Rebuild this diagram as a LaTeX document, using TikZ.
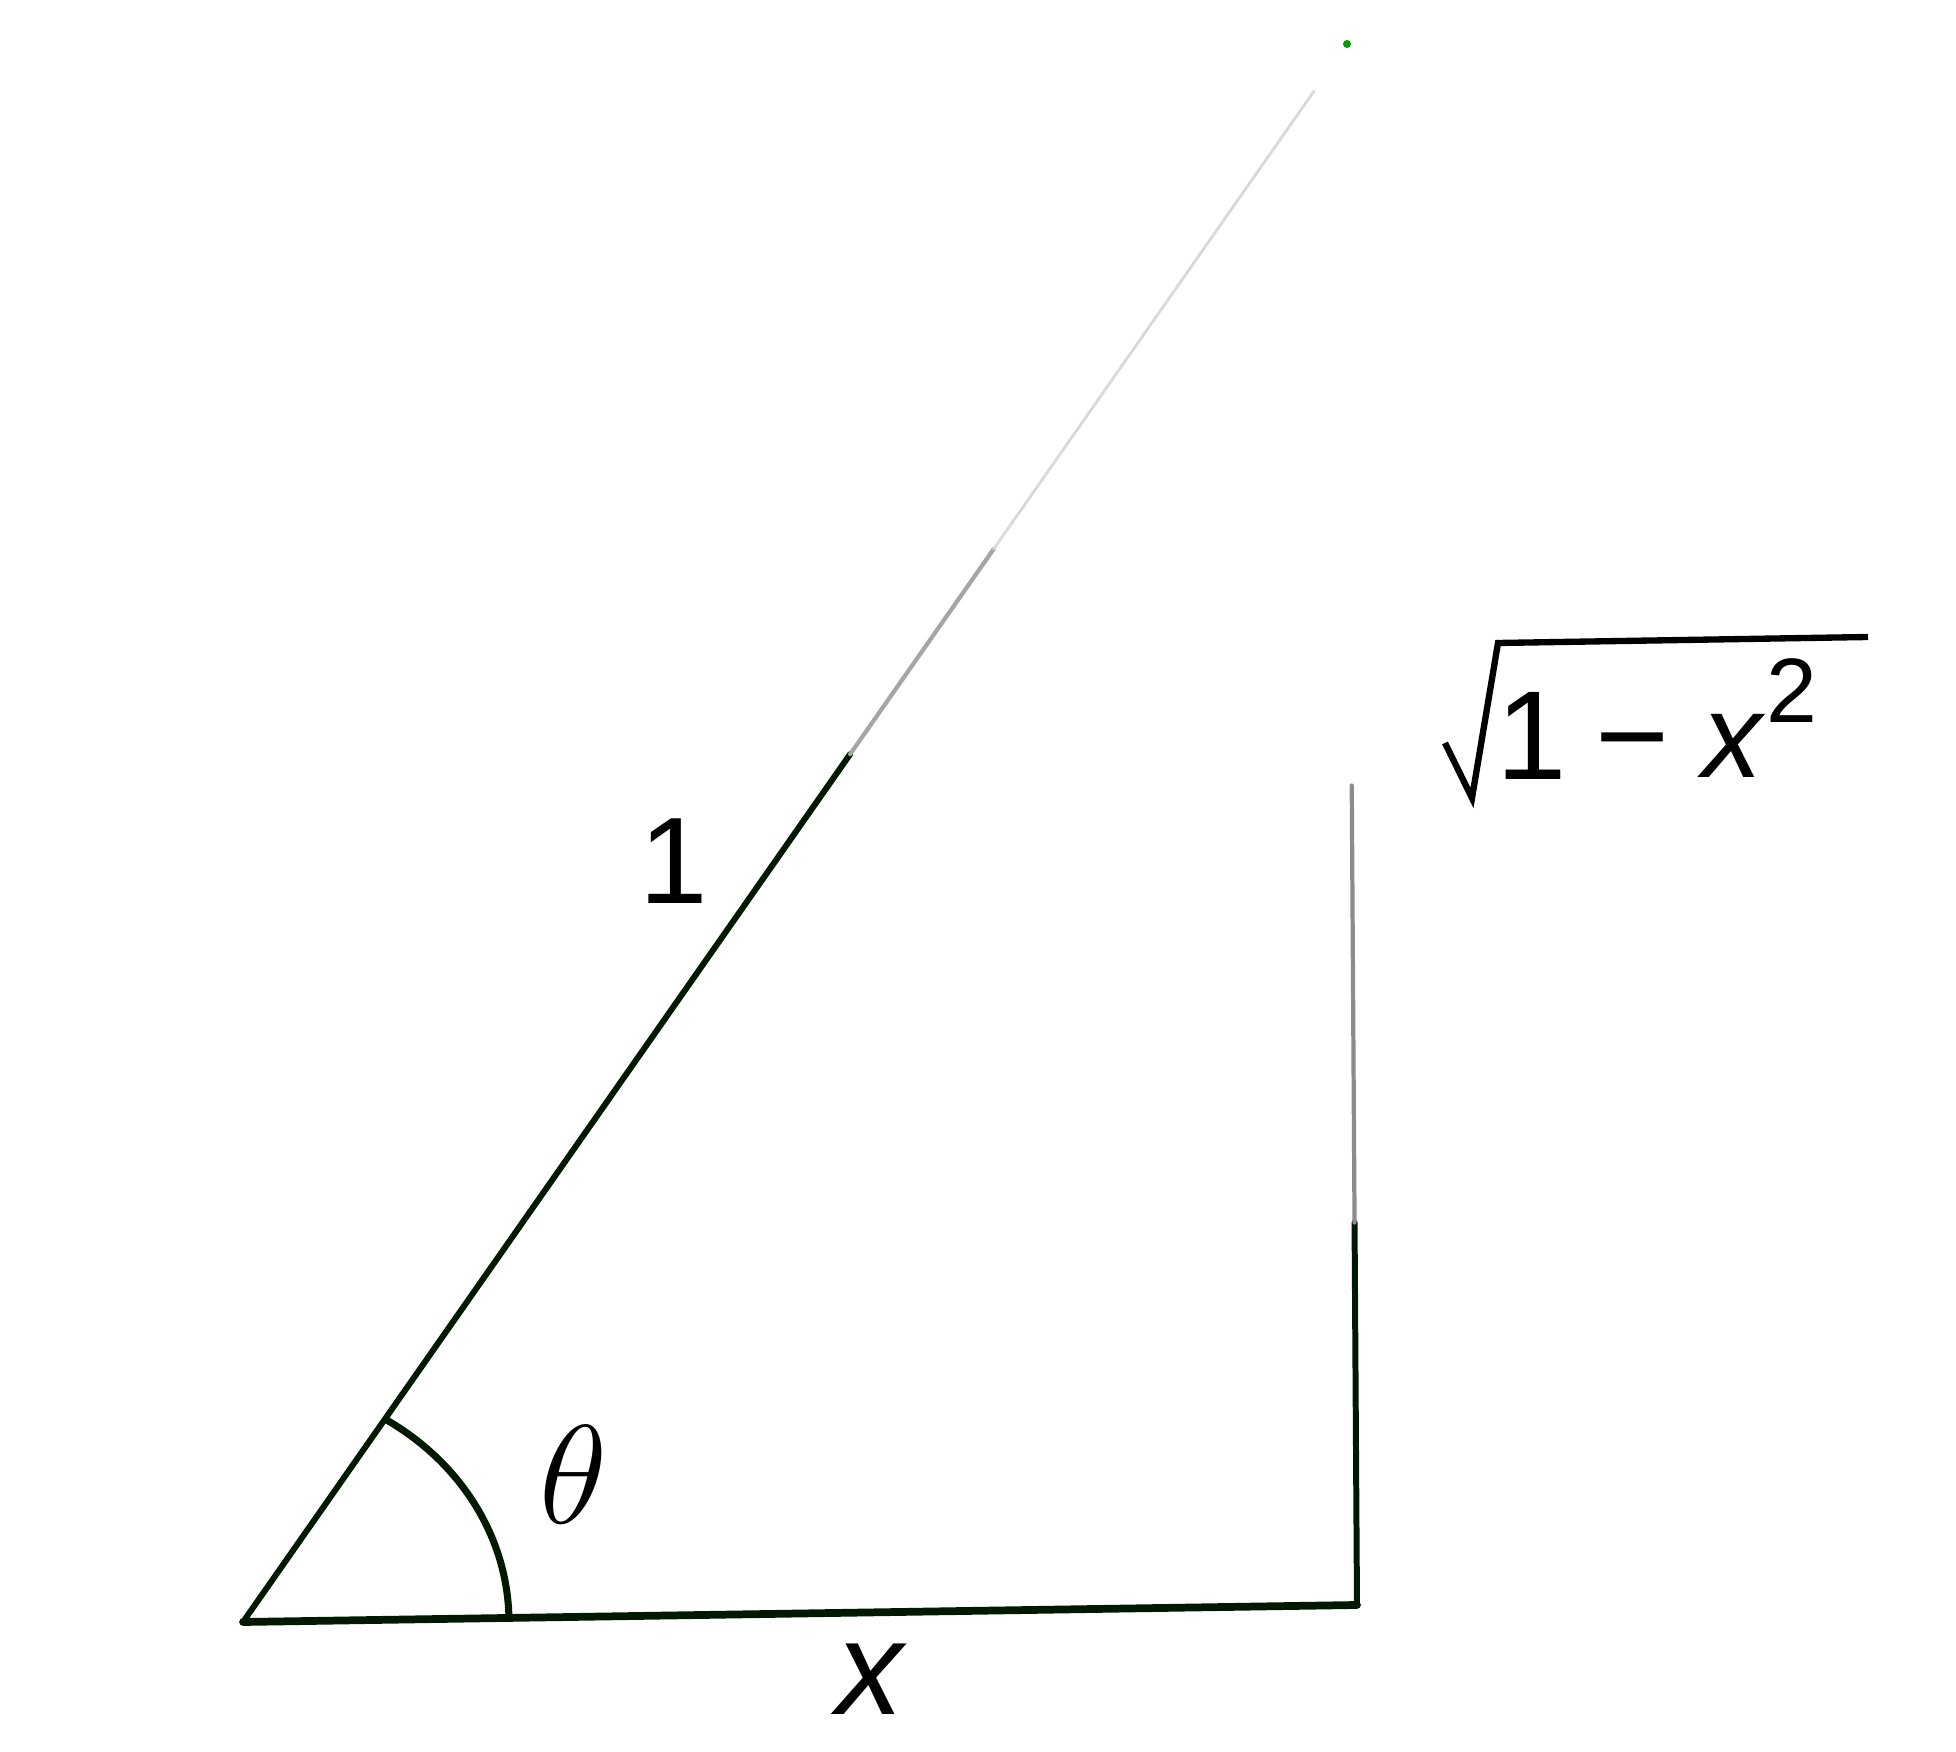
\RequirePackage{fix-cm}
\documentclass[tikz,border=0pt]{standalone}
\usepackage{fontspec}
\setsansfont{Liberation Sans}
\usetikzlibrary{calc}
\tikzset{
  side/.style={line width=1.7pt, line cap=round, line join=round, color=black!90!green},
  faint/.style={line width=1.2pt, line cap=round},
  lbl/.style={inner sep=0pt, anchor=base},
}
\begin{document}
\begin{tikzpicture}[x=0.01cm, y=0.01cm]
\useasboundingbox (0,0) rectangle (1956,-1752);
\coordinate (A) at (243,-1622);
\coordinate (B) at (1357,-1605);
\coordinate (C) at (1347,-44);
% base
\draw[side, line width=2.2pt] (A) -- (B);
% hypotenuse, fading towards the top
\draw[side] (A) -- ($(A)!0.55!(C)$) coordinate (h1);
\draw[faint, black!35] (h1) -- ($(A)!0.68!(C)$) coordinate (h2);
\draw[faint, line width=0.8pt, black!15] (h2) -- ($(A)!0.97!(C)$) coordinate (h3);
% vertical side
\draw[side] (B) -- ($(B)!0.245!(C)$) coordinate (v1);
\draw[faint, black!45] (v1) -- ($(B)!0.525!(C)$) coordinate (v2);
\fill[green!60!black] (C) circle[radius=4];
% angle arc
\draw[line width=2pt, black!90!green] ($(A)+(266*0.9998,240*0.0157)$) arc[start angle=0.9, end angle=57.7, x radius=266, y radius=240];
% labels
\node[lbl, font=\fontsize{35}{40}\sffamily] (one) at (674,-904) {1};
\node[lbl, font=\fontsize{38}{44}\sffamily\itshape] (xl) at (870,-1715) {x};
\node[lbl, font=\fontsize{40}{46}\selectfont] (th) at (574,-1523) {$\theta$};
% sqrt(1 - x^2)
\draw[line width=1.8pt, line join=miter] (1445,-743) -- (1472,-798) -- (1498,-643) -- (1868,-637);
\node[lbl, font=\fontsize{36}{40}\sffamily] (s1) at (1532,-780) {1};
\node[lbl, font=\fontsize{36}{40}\sffamily] (sm) at (1632,-780) {−};
\node[lbl, font=\fontsize{34}{40}\sffamily\itshape] (sx) at (1732,-778) {x};
\node[lbl, font=\fontsize{26}{30}\sffamily] (s2) at (1792,-723) {2};
\end{tikzpicture}
\end{document}
